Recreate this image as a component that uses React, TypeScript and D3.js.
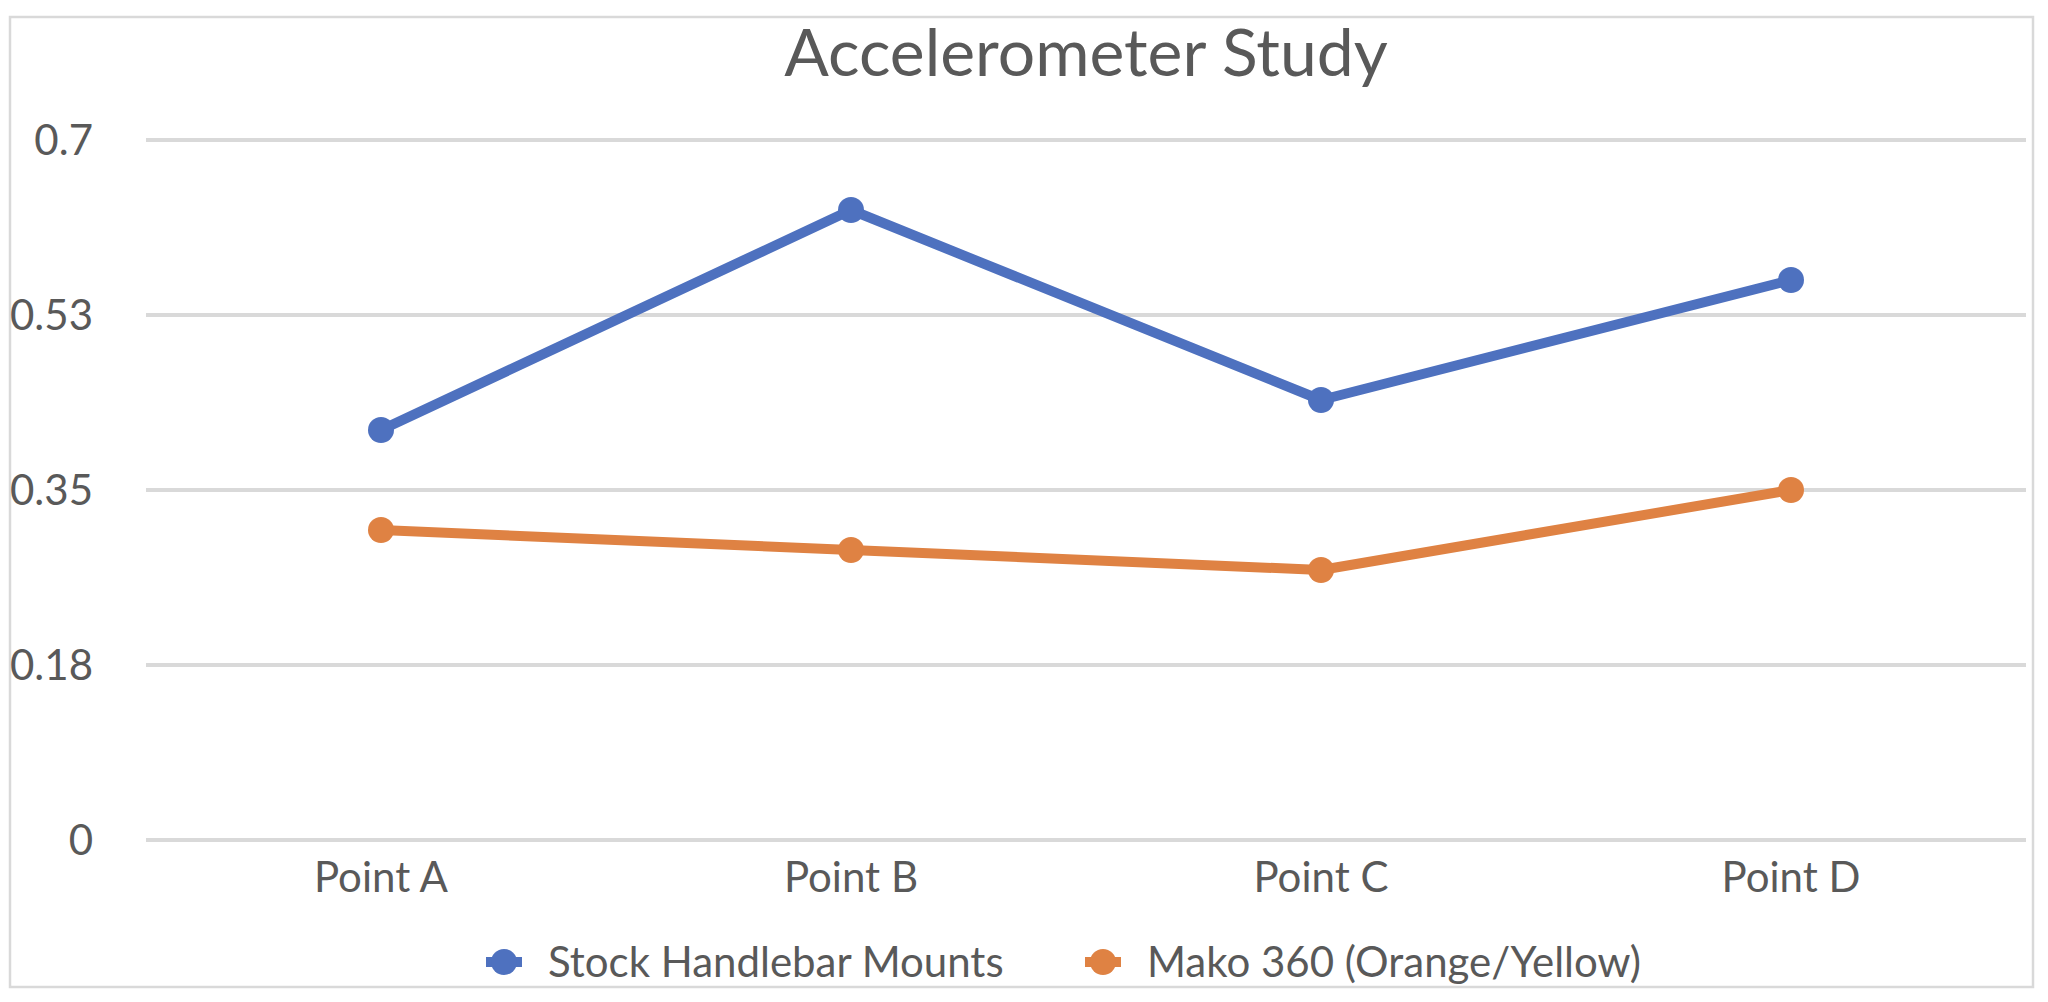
import React from 'react';
import * as d3 from 'd3';

// Chart data
const categories = ['Point A', 'Point B', 'Point C', 'Point D'];
const stockMounts = [0.41, 0.63, 0.44, 0.56];
const mako360 = [0.31, 0.29, 0.27, 0.35];
const yTicks = [0, 0.175, 0.35, 0.525, 0.7];
const yTickLabels = ['0', '0.18', '0.35', '0.53', '0.7'];

const series = [
  { name: 'Stock Handlebar Mounts', values: stockMounts, color: '#4e71bf' },
  { name: 'Mako 360 (Orange/Yellow)', values: mako360, color: '#df8243' },
];

const WIDTH = 2048;
const HEIGHT = 1002;
const FONT = 'Lato, "Open Sans", sans-serif';
const TEXT = '#595959';
const GRID = '#d9d9d9';

export default function App() {
  const plot = { left: 146, right: 2026, top: 140, bottom: 840 };

  const x = d3.scaleBand<string>()
    .domain(categories)
    .range([plot.left, plot.right]);

  const y = d3.scaleLinear()
    .domain([0, 0.7])
    .range([plot.bottom, plot.top]);

  const cx = (c: string) => (x(c) ?? 0) + x.bandwidth() / 2;

  const line = d3.line<number>()
    .x((_, i) => cx(categories[i]))
    .y(d => y(d));

  // legend entries: marker x, text start
  const legendY = 962;
  const legendItems = [
    { marker: 504, text: 548 },
    { marker: 1103, text: 1147 },
  ];

  return (
    <>
      <style>{'body{margin:0}'}</style>
      <svg width={WIDTH} height={HEIGHT} style={{ display: 'block', background: '#fff' }}>
        <rect x={10} y={17} width={2023} height={970} fill="#fff" stroke={GRID} strokeWidth={2.5} />

        {/* Title */}
        <text
          x={1086}
          y={76}
          textAnchor="middle"
          fontFamily={FONT}
          fontSize={66}
          fill={TEXT}
        >
          Accelerometer Study
        </text>

        {/* Gridlines and y labels */}
        {yTicks.map((t, i) => (
          <g key={t}>
            <line x1={plot.left} x2={plot.right} y1={y(t)} y2={y(t)} stroke={GRID} strokeWidth={4} />
            <text
              x={93}
              y={y(t)}
              dy="0.35em"
              textAnchor="end"
              fontFamily={FONT}
              fontSize={42}
              fill={TEXT}
            >
              {yTickLabels[i]}
            </text>
          </g>
        ))}

        {/* X labels */}
        {categories.map(c => (
          <text
            key={c}
            x={cx(c)}
            y={892}
            textAnchor="middle"
            fontFamily={FONT}
            fontSize={42}
            fill={TEXT}
          >
            {c}
          </text>
        ))}

        {/* Series lines and markers */}
        {series.map(s => (
          <g key={s.name}>
            <path d={line(s.values) ?? ''} fill="none" stroke={s.color} strokeWidth={10} strokeLinejoin="round" />
            {s.values.map((v, i) => (
              <circle key={i} cx={cx(categories[i])} cy={y(v)} r={13} fill={s.color} />
            ))}
          </g>
        ))}

        {/* Legend */}
        {series.map((s, i) => (
          <g key={s.name}>
            <line
              x1={legendItems[i].marker - 18}
              x2={legendItems[i].marker + 18}
              y1={legendY}
              y2={legendY}
              stroke={s.color}
              strokeWidth={10}
            />
            <circle cx={legendItems[i].marker} cy={legendY} r={13} fill={s.color} />
            <text
              x={legendItems[i].text}
              y={977}
              fontFamily={FONT}
              fontSize={42}
              fill={TEXT}
            >
              {s.name}
            </text>
          </g>
        ))}
      </svg>
    </>
  );
}
